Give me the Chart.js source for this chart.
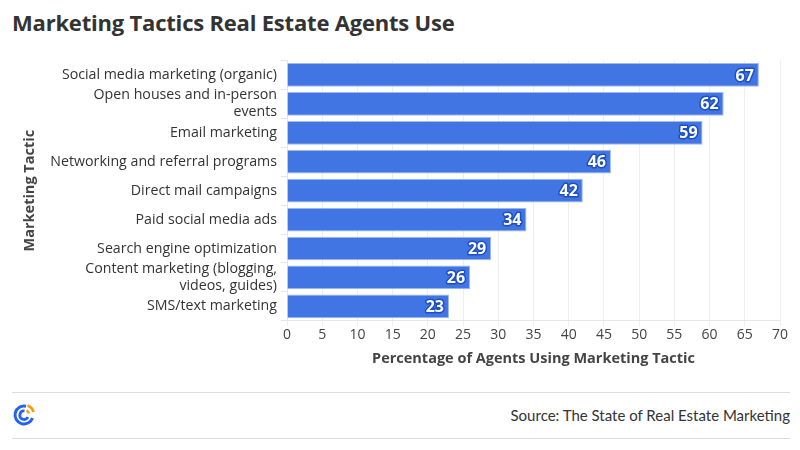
<!DOCTYPE html>
<html>
<head>
<meta charset="utf-8">
<script src="https://cdn.jsdelivr.net/npm/chart.js@4.4.1/dist/chart.umd.min.js"></script>
<style>
  body { margin: 0; background: #fff; font-family: Lato, sans-serif; }
  #wrap { position: relative; width: 800px; height: 450px; }
  h1 { position: absolute; left: 12px; top: 7px; margin: 0; font-family: "Open Sans", sans-serif; font-size: 22px; font-weight: 700; color: #333; letter-spacing: -0.2px; }
  #box { position: absolute; left: 0; top: 48px; width: 800px; height: 324px; }
  .rule { position: absolute; left: 12px; width: 778px; height: 1px; background: #ddd; }
  #src { position: absolute; right: 10px; top: 406px; font-size: 15px; color: #333; }
  #logo { position: absolute; left: 12px; top: 403px; }
</style>
</head>
<body>
<div id="wrap">
  <h1>Marketing Tactics Real Estate Agents Use</h1>
  <div id="box"><canvas id="chart"></canvas></div>
  <div class="rule" style="top:392px"></div>
  <svg id="logo" width="24" height="24" viewBox="0 0 24 24">
    <path d="M 14 3.2 A 9 9 0 1 0 20.5 15" fill="none" stroke="#2563eb" stroke-width="3"/>
    <path d="M 12.5 8 A 4.2 4.2 0 1 0 15.8 14" fill="none" stroke="#2563eb" stroke-width="2.8"/>
    <path d="M 15.5 2.5 A 9.5 9.5 0 0 1 21.5 9" fill="none" stroke="#f59e0b" stroke-width="2.8"/>
    <path d="M 14.5 7.5 A 4.5 4.5 0 0 1 16.8 10.5" fill="none" stroke="#f59e0b" stroke-width="2.5"/>
  </svg>
  <div id="src">Source: The State of Real Estate Marketing</div>
  <div class="rule" style="top:438px"></div>
</div>
<script>
const tactics = [
  "Social media marketing (organic)",
  ["Open houses and in-person", "events"],
  "Email marketing",
  "Networking and referral programs",
  "Direct mail campaigns",
  "Paid social media ads",
  "Search engine optimization",
  ["Content marketing (blogging,", "videos, guides)"],
  "SMS/text marketing"
];
const percentages = [67, 62, 59, 46, 42, 34, 29, 26, 23];

const FONT = "'Open Sans', sans-serif";

// etiquetas de valor dentro del extremo de cada barra
const valueLabels = {
  id: "valueLabels",
  afterDatasetsDraw(chart) {
    const ctx = chart.ctx;
    const meta = chart.getDatasetMeta(0);
    ctx.save();
    ctx.font = "bold 16px " + FONT;
    ctx.textAlign = "right";
    ctx.textBaseline = "middle";
    ctx.lineJoin = "round";
    meta.data.forEach((bar, i) => {
      const txt = String(percentages[i]);
      const x = bar.x - 5, y = bar.y + 1;
      ctx.lineWidth = 3;
      ctx.strokeStyle = "#1d4fc4";
      ctx.strokeText(txt, x, y);
      ctx.fillStyle = "#fff";
      ctx.fillText(txt, x, y);
    });
    ctx.restore();
  }
};

new Chart(document.getElementById("chart"), {
  type: "bar",
  data: {
    labels: tactics,
    datasets: [{
      data: percentages,
      backgroundColor: "rgba(55,110,225,0.95)",
      borderColor: "rgba(160,185,240,1)",
      borderWidth: 1,
      barPercentage: 0.82,
      categoryPercentage: 1
    }]
  },
  options: {
    indexAxis: "y",
    responsive: true,
    maintainAspectRatio: false,
    animation: false,
    layout: { padding: { left: 17, right: 20, top: 8, bottom: 0 } },
    plugins: { legend: { display: false }, tooltip: { enabled: false } },
    scales: {
      x: {
        min: 0, max: 70,
        ticks: { stepSize: 5, color: "#444", font: { family: FONT, size: 14 }, padding: 1 },
        grid: { color: "#eeeeee", tickLength: 5, drawTicks: true },
        border: { color: "#e6e6e6" },
        title: { display: true, text: "Percentage of Agents Using Marketing Tactic", color: "#444",
                 font: { family: FONT, size: 14.5, weight: "bold" }, padding: { top: 6 } }
      },
      y: {
        afterFit(scale) { scale.width = 270; },
        ticks: { autoSkip: false, color: "#333", font: { family: FONT, size: 14.2 }, padding: 4, lineHeight: 1.0 },
        grid: { display: true, drawOnChartArea: false, color: "#e6e6e6", tickLength: 6 },
        border: { color: "#e6e6e6" },
        title: { display: true, text: "Marketing Tactic", color: "#444",
                 font: { family: FONT, size: 14.5, weight: "bold" }, padding: { bottom: 0 } }
      }
    }
  },
  plugins: [valueLabels]
});
</script>
</body>
</html>
